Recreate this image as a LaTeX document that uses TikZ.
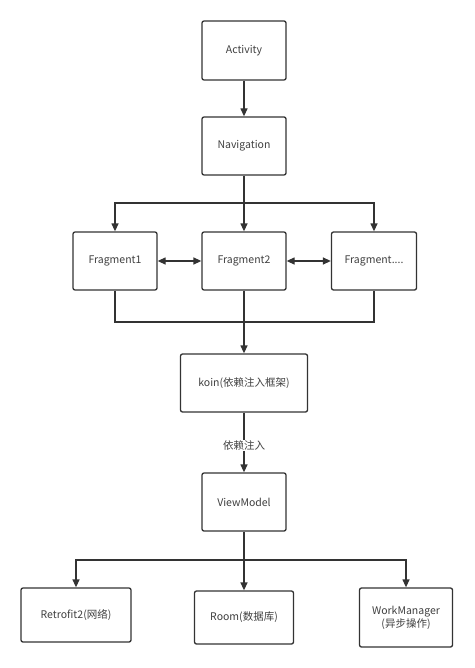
\documentclass[tikz,border=0pt]{standalone}
\usepackage{fontspec}
\setmainfont{Noto Sans CJK SC}
\usetikzlibrary{arrows.meta}

\definecolor{linegray}{HTML}{333333}
\definecolor{textgray}{HTML}{404040}

\tikzset{
  box/.style={draw=linegray, line width=1.3pt, rounded corners=2pt, fill=white,
    font=\fontsize{10.5}{13}\selectfont, text=textgray, align=center, inner sep=2pt},
  link/.style={draw=linegray, line width=1.3pt},
  arr/.style={link, -{Triangle[length=8pt,width=7pt]}},
  biarr/.style={link, {Triangle[length=8pt,width=7pt]}-{Triangle[length=8pt,width=7pt]}}
}

\begin{document}
\begin{tikzpicture}[x=1pt, y=-1pt]

    % Frame
    \useasboundingbox (0,0) rectangle (474,668);

    % Top
    \node[box, minimum width=84pt, minimum height=59pt] (activity) at (244,50.5) {Activity};
    \node[box, minimum width=84pt, minimum height=58pt] (navigation) at (244,146) {Navigation};

    % Fragments
    \node[box, minimum width=84pt, minimum height=58pt] (fragA) at (115,261) {Fragment1};
    \node[box, minimum width=84pt, minimum height=58pt] (fragB) at (244,261) {Fragment2};
    \node[box, minimum width=85pt, minimum height=58pt] (fragC) at (374,261) {Fragment....};

    % Injection
    \node[box, minimum width=127pt, minimum height=58pt] (koin) at (244,383) {koin(依赖注入框架)};
    \node[box, minimum width=84pt, minimum height=58pt] (viewmodel) at (244,502) {ViewModel};

    % Bottom layer
    \node[box, minimum width=110pt, minimum height=54pt] (retrofit) at (76,615) {Retrofit2(网络)};
    \node[box, minimum width=99pt, minimum height=53pt] (room) at (244,617.5) {Room(数据库)};
    \node[box, minimum width=93pt, minimum height=59pt] (work) at (406,617.5) {WorkManager\\(异步操作)};

    % Split and merge points
    \coordinate (splitTop) at (244,203);
    \coordinate (mergeMid) at (244,322);
    \coordinate (splitLow) at (244,560);

    % Connectors
    \draw[arr] (activity) -- (navigation);
    \draw[link] (navigation) -- (splitTop);
    \draw[arr] (splitTop) -| (fragA);
    \draw[arr] (splitTop) -- (fragB);
    \draw[arr] (splitTop) -| (fragC);

    \draw[biarr] (fragA) -- (fragB);
    \draw[biarr] (fragB) -- (fragC);

    \draw[link] (fragA) |- (mergeMid) -| (fragC);
    \draw[arr] (fragB) -- (koin);

    \draw[arr] (koin) -- node[fill=white, inner sep=1pt, text=textgray,
      font=\fontsize{10.5}{13}\selectfont, pos=0.55] (inject) {依赖注入} (viewmodel);

    \draw[link] (viewmodel) -- (splitLow);
    \draw[arr] (splitLow) -| (retrofit);
    \draw[arr] (splitLow) -- (room);
    \draw[arr] (splitLow) -| (work);

\end{tikzpicture}
\end{document}
